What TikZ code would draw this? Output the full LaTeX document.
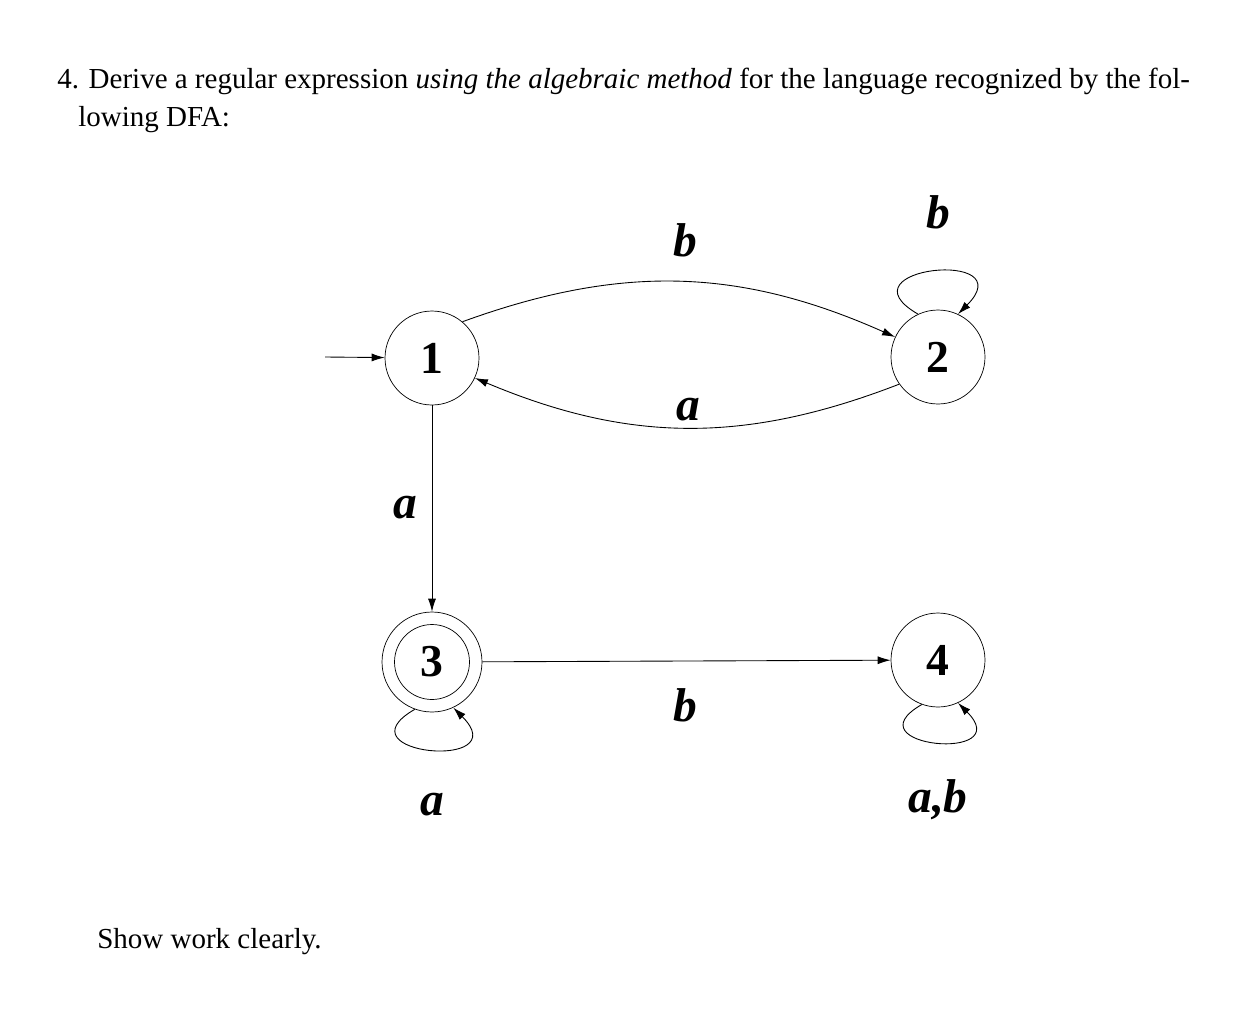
\documentclass[tikz,border=0pt]{standalone}
\usepackage{fontspec}
\setmainfont{Liberation Serif}
\usetikzlibrary{arrows.meta}
\begin{document}
\begin{tikzpicture}[x=0.02cm,y=-0.02cm,
  st/.style={circle,draw,minimum size=1.88cm,inner sep=0pt,font=\fontsize{26}{26}\selectfont\bfseries},
  arr/.style={-{Latex[length=0.26cm,width=0.16cm]},line width=0.5pt},
  lab/.style={font=\fontsize{27}{27}\selectfont\bfseries\itshape},
  txt/.style={anchor=base west,inner sep=0pt,font=\fontsize{16.5}{16.5}\selectfont}]
\useasboundingbox (0,0) rectangle (1254,1008);
\node[txt] (t1) at (57,88) {4. Derive a regular expression \textit{using the algebraic method} for the language recognized by the fol-};
\node[txt] (t2) at (78,126) {lowing DFA:};
\node[txt] (t3) at (97,948) {Show work clearly.};
\node[st] (1) at (432,358) {1};
\node[st] (2) at (938,357) {2};
\node[st,minimum size=2.0cm] (3) at (432,662) {};
\node[circle,draw,minimum size=1.5cm,inner sep=0pt,font=\fontsize{26}{26}\selectfont\bfseries] (3i) at (432,662) {3};
\node[st] (4) at (938,660) {4};
\coordinate (s) at (325,357);
\draw[arr] (s) -- (1);
\draw[arr] (1.50) to[bend left=22] (2.155);
\draw[arr] (2.215) to[bend left=22] (1.335);
\draw[arr] (1) -- (3);
\draw[arr] (3) -- (4);
\draw[arr] (2.115) to[out=150,in=45,looseness=6] (2.65);
\draw[arr] (3.250) to[out=210,in=315,looseness=6] (3.295);
\draw[arr] (4.250) to[out=210,in=315,looseness=6] (4.295);
\node[lab] at (685,240) {b};
\node[lab] at (938,212) {b};
\node[lab] at (688,410) {a};
\node[lab] at (405,508) {a};
\node[lab] at (685,705) {b};
\node[lab] at (432,805) {a};
\node[lab] at (938,800) {a,b};
\end{tikzpicture}
\end{document}
